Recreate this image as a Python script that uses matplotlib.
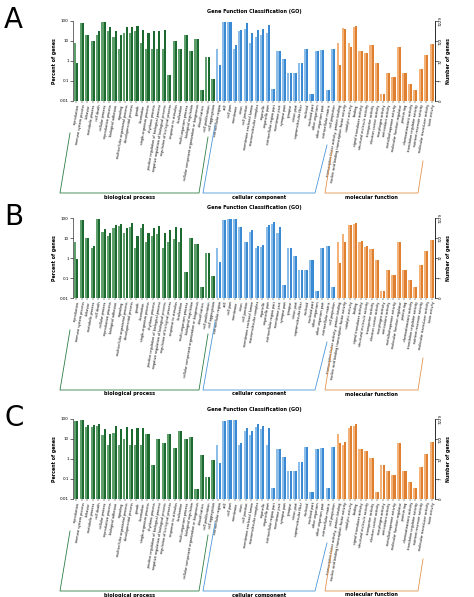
import matplotlib
matplotlib.use('Agg')
import matplotlib.pyplot as plt
import numpy as np

W, H = 474, 597

bp_terms = ['reproduction', 'immune system process', 'behavior', 'metabolic process', 'cell death',
            'cellular process', 'reproductive process', 'biological adhesion', 'signaling',
            'multicellular organismal process', 'developmental process', 'growth', 'locomotion',
            'single-organism process', 'rhythmic process', 'positive regulation of biological process',
            'negative regulation of biological process', 'regulation of biological process',
            'response to stimulus', 'localization', 'multi-organism process', 'biological regulation',
            'cellular component organization or biogenesis', 'detoxification', 'cell proliferation',
            'cell aggregation']
cc_terms = ['extracellular region', 'cell', 'cell part', 'membrane', 'virion', 'cell junction',
            'membrane-enclosed lumen', 'macromolecular complex', 'organelle', 'organelle part',
            'extracellular region part', 'membrane part', 'synapse part', 'synapse', 'virion part',
            'supramolecular fiber', 'nucleoid', 'nucleoid part', 'other organism', 'other organism part',
            'extracellular matrix', 'cell projection']
mf_terms = ['transcription factor activity, protein binding', 'nucleic acid binding transcription factor activity',
            'catalytic activity', 'binding', 'signal transducer activity', 'structural molecule activity',
            'transporter activity', 'electron carrier activity', 'morphogen activity', 'antioxidant activity',
            'metallochaperone activity', 'molecular function regulator', 'protein tag',
            'chemoattractant activity', 'translation regulator activity', 'nutrient reservoir activity',
            'molecular transducer activity', 'toxin activity']

# percent of genes: (light series, dark series) per panel
a_bp_light = [8, 80, 20, 10, 20, 90, 30, 15, 4, 25, 25, 30, 8, 4, 4, 4, 4, 0.2, 10, 4, 20, 3.3, 12, 0.025, 1.6, 0.12]
a_bp_dark = [0.8, 80, 20, 10, 30, 90, 50, 30, 20, 50, 50, 55, 35, 25, 30, 30, 35, 0.2, 10, 4, 20, 3.3, 12, 0.025, 1.6, 0.12]
a_cc_light = [4, 90, 90, 4, 30, 40, 8, 15, 20, 25, 0.03, 3, 1.2, 0.25, 0.25, 0.8, 4, 0.012, 3, 3.5, 0.025, 4]
a_cc_dark = [0.6, 90, 90, 6, 35, 80, 25, 35, 40, 60, 0.03, 3, 1.2, 0.25, 0.25, 0.8, 4, 0.012, 3, 3.5, 0.025, 4]
a_mf_light = [8, 45, 8, 50, 3.3, 2.5, 6, 0.8, 0.012, 0.25, 0.15, 5, 0.25, 0.06, 0.025, 0.4, 2, 7]
a_mf_dark = [0.6, 40, 5, 55, 3.3, 2.5, 6, 0.8, 0.012, 0.25, 0.15, 5, 0.25, 0.06, 0.025, 0.4, 2, 7]

b_bp_light = [6, 75, 10, 3, 90, 20, 12, 30, 40, 18, 35, 3, 30, 6, 12, 15, 3, 6, 9, 6, 0.2, 10, 5, 0.025, 1.8, 0.12]
b_bp_dark = [0.85, 75, 10, 4, 90, 28, 18, 45, 50, 30, 55, 12, 50, 18, 30, 40, 18, 25, 35, 30, 0.2, 10, 5, 0.025, 1.8, 0.12]
b_cc_light = [3, 75, 90, 90, 35, 6, 20, 3, 3.5, 35, 50, 18, 0.035, 3.3, 1.3, 0.25, 0.25, 0.8, 0.012, 3.3, 4, 0.025]
b_cc_dark = [0.6, 75, 90, 90, 35, 6, 25, 4, 4.5, 45, 60, 35, 0.035, 3.3, 1.3, 0.25, 0.25, 0.8, 0.012, 3.3, 4, 0.025]
b_mf_light = [6, 15, 45, 50, 6, 3.5, 2.8, 0.75, 0.012, 0.25, 0.13, 6, 0.25, 0.065, 0.025, 0.45, 2.2, 8]
b_mf_dark = [0.55, 6, 45, 55, 7, 4, 2.8, 0.75, 0.012, 0.25, 0.13, 6, 0.25, 0.065, 0.025, 0.45, 2.2, 8]

c_bp_light = [80, 85, 40, 40, 45, 15, 5, 20, 5, 10, 5, 5, 5, 18, 0.5, 10, 6, 18, 3.5, 25, 10, 12, 0.02, 1.5, 0.12, 0.9]
c_bp_dark = [75, 90, 50, 50, 55, 30, 18, 45, 30, 40, 30, 35, 35, 18, 0.5, 10, 6, 18, 3.5, 25, 10, 12, 0.02, 1.5, 0.12, 0.9]
c_cc_light = [5, 80, 90, 90, 5, 25, 15, 40, 30, 5, 0.025, 3, 1.2, 0.25, 0.25, 0.7, 4, 0.012, 3, 3.5, 0.025, 4]
c_cc_dark = [0.6, 80, 90, 90, 6, 35, 25, 55, 45, 35, 0.025, 3, 1.2, 0.25, 0.25, 0.7, 4, 0.012, 3, 3.5, 0.025, 4]
c_mf_light = [18, 5, 35, 45, 3.3, 2.6, 1.1, 0.012, 0.5, 0.25, 0.15, 6, 0.25, 0.06, 0.025, 0.4, 1.8, 7]
c_mf_dark = [6, 7, 45, 55, 3.3, 2.6, 1.1, 0.012, 0.5, 0.25, 0.15, 6, 0.25, 0.06, 0.025, 0.4, 1.8, 7]

right_ticks = ['0', '7', '72', '722', '7229']
groups = ['biological process', 'cellular component', 'molecular function']

colors = [('#5f9f6b', '#1d6a30'), ('#8cbde9', '#3a8ad3'), ('#f2b27a', '#de8030')]
edge = ['#2e7d45', '#4b97d8', '#e29450']

panels = [
    ('A', 0, [(a_bp_light, a_bp_dark), (a_cc_light, a_cc_dark), (a_mf_light, a_mf_dark)]),
    ('B', 197, [(b_bp_light, b_bp_dark), (b_cc_light, b_cc_dark), (b_mf_light, b_mf_dark)]),
    ('C', 398, [(c_bp_light, c_bp_dark), (c_cc_light, c_cc_dark), (c_mf_light, c_mf_dark)]),
]

fig = plt.figure(figsize=(W / 100, H / 100), dpi=100)

def fx(x):
    return x / W

def fy(y):
    return 1 - y / H

terms = bp_terms + cc_terms + mf_terms
n = len(terms)
grp_idx = [0] * len(bp_terms) + [1] * len(cc_terms) + [2] * len(mf_terms)

for letter, off, data in panels:
    fig.text(fx(4), fy(off + 20), letter, fontsize=20, va='center', ha='left')
    fig.text(fx(254), fy(off + 11), 'Gene Function Classification (GO)', fontsize=3.6,
             fontweight='bold', ha='center', va='center')
    ax = fig.add_axes([fx(73), fy(off + 101), fx(435) - fx(73), fy(off + 21) - fy(off + 101)])
    light = sum([list(d[0]) for d in data], [])
    dark = sum([list(d[1]) for d in data], [])
    x = np.arange(n)
    lc = [colors[g][0] for g in grp_idx]
    dc = [colors[g][1] for g in grp_idx]
    ax.bar(x - 0.2, light, width=0.38, color=lc, bottom=0.01)
    ax.bar(x + 0.2, dark, width=0.38, color=dc, bottom=0.01)
    ax.set_yscale('log')
    ax.set_ylim(0.01, 100)
    ax.set_xlim(-0.6, n - 0.4)
    ax.set_yticks([0.01, 0.1, 1, 10, 100])
    ax.set_yticklabels(['0.01', '0.1', '1', '10', '100'])
    ax.minorticks_off()
    ax.tick_params(axis='y', labelsize=3, length=2, width=0.4, pad=1)
    ax.set_xticks(x)
    ax.set_xticklabels(terms, rotation=80, ha='right', fontsize=2.4, rotation_mode='anchor')
    ax.tick_params(axis='x', length=1.2, width=0.3, pad=1)
    for s in ['top', 'bottom']:
        ax.spines[s].set_visible(False)
    ax.spines['left'].set_linewidth(0.4)
    ax.spines['right'].set_linewidth(0.4)
    ax.set_ylabel('Percent of genes', fontsize=3.4, fontweight='bold', labelpad=2)
    ax2 = ax.twinx()
    ax2.set_yscale('log')
    ax2.set_ylim(0.01, 100)
    ax2.set_yticks([0.01, 0.1, 1, 10, 100])
    ax2.set_yticklabels(right_ticks, rotation=90, va='center')
    ax2.minorticks_off()
    ax2.tick_params(axis='y', labelsize=2.8, length=2, width=0.4, pad=1)
    for s in ['top', 'bottom', 'left']:
        ax2.spines[s].set_visible(False)
    ax2.spines['right'].set_linewidth(0.4)
    ax2.set_ylabel('Number of genes', fontsize=3.4, fontweight='bold', labelpad=2)

    # group brackets
    brackets = [((70, 133), (60, 193), (199, 193), (208, 137)),
                ((215, 125), (203, 193), (315, 193), (327, 145)),
                ((332, 150), (325, 193), (418, 193), (423, 161))]
    for g, pts in enumerate(brackets):
        xs = [fx(p[0]) for p in pts]
        ys = [fy(p[1] + off) for p in pts]
        fig.add_artist(plt.Line2D(xs, ys, color=edge[g], lw=0.6))
        fig.text((xs[1] + xs[2]) / 2, fy(off + 197), groups[g], fontsize=3.6,
                 fontweight='bold', ha='center', va='center')

fig.savefig('out.png', dpi=100)
